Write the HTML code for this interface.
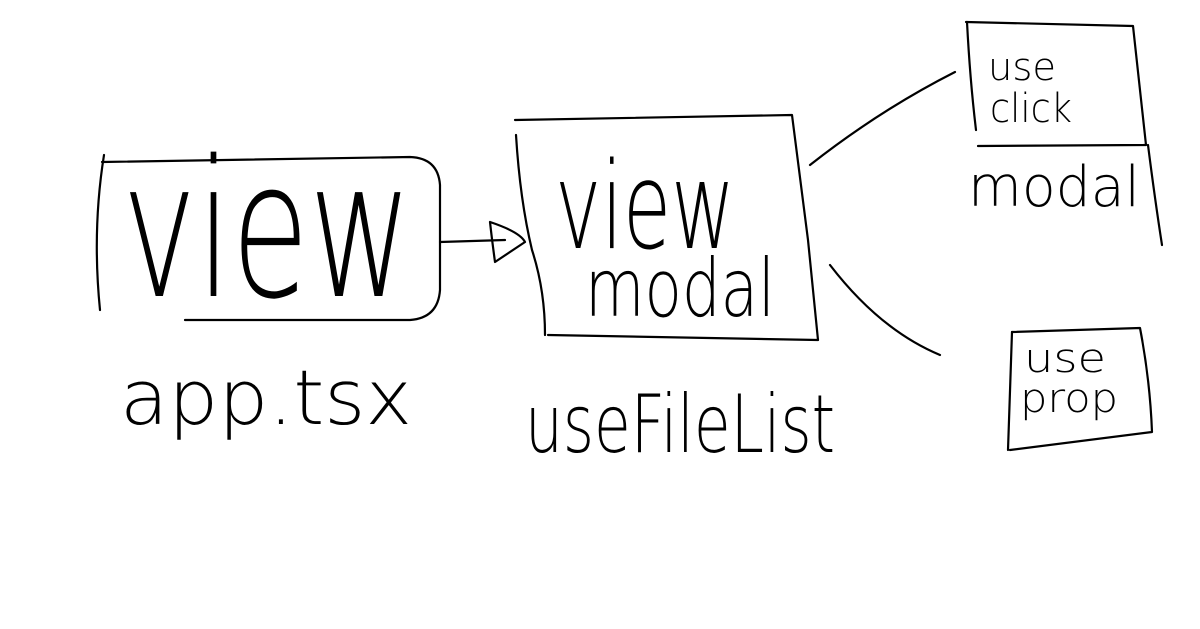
<!DOCTYPE html>
<html><head><meta charset="utf-8"><style>
html,body{margin:0;padding:0;background:#fff;}
svg{display:block}
text{font-family:"DejaVu Sans","Liberation Sans",sans-serif;fill:#000;font-weight:200}
</style></head><body>
<svg width="1200" height="629" viewBox="0 0 1200 629" xmlns="http://www.w3.org/2000/svg">
<g fill="none" stroke="#000" stroke-width="2.2" stroke-linecap="round" stroke-linejoin="round">
<path d="M104 155 Q92 230 100 310"/>
<path d="M102 162 L410 157 Q438 158 440 185 L440 290 Q438 318 410 320 L185 320"/>
<path d="M440 242 L505 240"/>
<path d="M490 222 Q520 232 525 242 Q510 252 495 262 Q492 240 490 222"/>
<path d="M515 120 L792 115 L808 240 L818 340 L548 335"/>
<path d="M516 135 Q520 200 532 250 Q545 290 545 335"/>
<path d="M966 22 L1133 26 L1146 145 L978 146"/>
<path d="M967 22 Q970 80 976 130"/>
<path d="M1148 145 Q1155 200 1162 245"/>
<path d="M1012 332 L1140 328 Q1150 380 1152 432 L1010 450"/>
<path d="M1012 332 L1008 450"/>
<path d="M810 165 Q880 110 955 72"/>
<path d="M830 265 Q880 330 940 355"/>
</g>
<g>
<text x="122" y="296" font-size="190" textLength="290" lengthAdjust="spacingAndGlyphs">view</text>
<text x="555" y="248" font-size="120" textLength="180" lengthAdjust="spacingAndGlyphs">view</text>
<text x="585" y="316" font-size="80" textLength="190" lengthAdjust="spacingAndGlyphs">modal</text>
<text x="120" y="424" font-size="76" textLength="292" lengthAdjust="spacingAndGlyphs">app.tsx</text>
<text x="525" y="452" font-size="80" textLength="310" lengthAdjust="spacingAndGlyphs">useFileList</text>
<text x="988" y="80" font-size="38" textLength="68" lengthAdjust="spacingAndGlyphs">use</text>
<text x="990" y="122" font-size="40" textLength="82" lengthAdjust="spacingAndGlyphs">click</text>
<text x="968" y="206" font-size="56" textLength="172" lengthAdjust="spacingAndGlyphs">modal</text>
<text x="1024" y="372" font-size="40" textLength="82" lengthAdjust="spacingAndGlyphs">use</text>
<text x="1020" y="412" font-size="40" textLength="98" lengthAdjust="spacingAndGlyphs">prop</text>
</g>
</svg>
</body></html>
